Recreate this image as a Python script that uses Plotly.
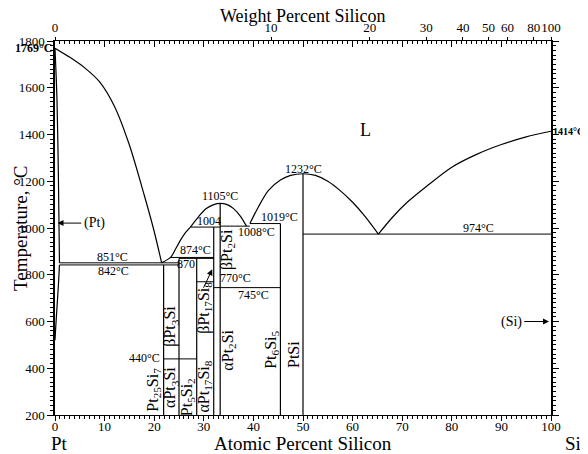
import plotly.graph_objects as go

# --- phase boundaries, atomic percent Si vs temperature (deg C) ---
liq_pt_x = [0, 3, 6, 9, 12, 15, 18, 20, 21.5]
liq_pt_t = [1769, 1730, 1685, 1625, 1520, 1355, 1140, 985, 851]

liq_mid_x = [21.5, 23.3, 24.3, 25.3, 26.3, 27.3]
liq_mid_t = [851, 874, 910, 948, 980, 1004]

liq_pt2si_x = [27.3, 29, 30.5, 32, 33.3, 34.7, 36, 37.4, 38.6]
liq_pt2si_t = [1004, 1050, 1083, 1100, 1105, 1100, 1083, 1050, 1008]

liq_ptsi_x = [39.3, 41, 43, 45.45, 47.5, 50, 52.5, 55, 57.5, 60, 62.5, 65.2]
liq_ptsi_t = [1019, 1090, 1160, 1205, 1225, 1232, 1225, 1200, 1160, 1110, 1050, 974]

liq_si_x = [65.2, 68, 71, 75, 80, 85, 90, 95, 100]
liq_si_t = [974, 1045, 1110, 1180, 1260, 1315, 1357, 1390, 1414]

solidus_pt_x = [0, 0.4, 0.7, 0.9]
solidus_pt_t = [1769, 1550, 1200, 851]
solvus_pt_x = [0.9, 0.7, 0.4, 0.1, 0]
solvus_pt_t = [842, 760, 660, 560, 520]

# invariant lines: temperature, from, to
iso_t = [851, 842, 874, 870, 1004, 1008, 1019, 974, 770, 745, 440]
iso_x0 = [0.9, 0.9, 23.3, 25, 27.3, 33.3, 39.3, 50, 28.57, 32, 21.9]
iso_x1 = [25, 25, 32, 32, 33.3, 39.3, 45.45, 100, 32, 45.45, 28.57]

# intermediate compounds: composition and top temperature
comp_x = [21.9, 25, 28.57, 32, 33.3, 45.45, 50]
comp_top = [842, 870, 870, 1004, 1105, 1019, 1232]

# top axis in weight percent
wt_ticks = [0, 10, 20, 30, 40, 50, 60, 80, 100]


def wt_to_at(w):
    if w >= 100:
        return 100.0
    a = w / 28.0855
    b = (100 - w) / 195.084
    return 100 * a / (a + b)


FONT = "Liberation Serif"

fig = go.Figure()

for xs, ts in [
    (liq_pt_x, liq_pt_t),
    (liq_mid_x, liq_mid_t),
    (liq_pt2si_x, liq_pt2si_t),
    (liq_ptsi_x, liq_ptsi_t),
    (liq_si_x, liq_si_t),
    (solidus_pt_x, solidus_pt_t),
    (solvus_pt_x, solvus_pt_t),
]:
    fig.add_trace(
        go.Scatter(x=xs, y=ts, mode="lines", line=dict(color="black", width=1.2, shape="spline", smoothing=0.8),
                   showlegend=False, hoverinfo="skip")
    )

# horizontal invariants
hx, hy = [], []
for t, a, b in zip(iso_t, iso_x0, iso_x1):
    hx += [a, b, None]
    hy += [t, t, None]
fig.add_trace(go.Scatter(x=hx, y=hy, mode="lines", line=dict(color="black", width=1), showlegend=False,
                         hoverinfo="skip"))

# vertical compound lines
vx, vy = [], []
for c, top in zip(comp_x, comp_top):
    vx += [c, c, None]
    vy += [200, top, None]
fig.add_trace(go.Scatter(x=vx, y=vy, mode="lines", line=dict(color="black", width=1.2), showlegend=False,
                         hoverinfo="skip"))

# dummy traces so the two top axes get drawn
for ax in ["x2", "x3"]:
    fig.add_trace(go.Scatter(x=[0], y=[200], xaxis=ax, mode="markers", marker=dict(opacity=0),
                             showlegend=False, hoverinfo="skip"))


def label(text, x, t, size=12, angle=0, **kw):
    kw.setdefault("xanchor", "center")
    fig.add_annotation(x=x, y=t, text=text, showarrow=False, textangle=angle, yanchor="middle",
                       font=dict(family=FONT, size=size, color="black"), **kw)


def note(text, x, y, size=19, angle=0, **kw):
    kw.setdefault("xanchor", "center")
    fig.add_annotation(x=x, y=y, xref="paper", yref="paper", text=text, showarrow=False, textangle=angle,
                       yanchor="middle", font=dict(family=FONT, size=size, color="black"), **kw)


# temperature labels
label("851°C", 11.5, 877)
label("842°C", 11.7, 815)
label("874°C", 28.3, 906)
label("870", 26.4, 846)
label("1105°C", 33.2, 1136)
label("1004", 31.0, 1028)
label("1008°C", 40.7, 981)
label("1019°C", 45.3, 1045)
label("1232°C", 50.1, 1253)
label("770°C", 36.4, 787)
label("745°C", 40.0, 713)
label("974°C", 85.4, 1000)
label("440°C", 21.6, 446, xanchor="right")
label("L", 62.7, 1419, size=18)

# phase labels (rotated)
phase = 16
label("βPt<sub>2</sub>Si", 34.9, 906, phase, -90)
label("βPt<sub>3</sub>Si", 23.4, 578, phase, -90)
label("αPt<sub>3</sub>Si", 23.4, 316, phase, -90)
label("Pt<sub>25</sub>Si<sub>7</sub>", 19.9, 307, phase, -90)
label("Pt<sub>5</sub>Si<sub>2</sub>", 26.7, 278, phase, -90)
label("βPt<sub>17</sub>Si<sub>8</sub>", 30.2, 658, phase, -90)
label("αPt<sub>17</sub>Si<sub>8</sub>", 30.2, 321, phase, -90)
label("αPt<sub>2</sub>Si", 34.8, 478, phase, -90)
label("Pt<sub>6</sub>Si<sub>5</sub>", 43.5, 478, phase, -90)
label("PtSi", 48.2, 457, phase, -90)

# terminal solid solutions with arrows
label("(Pt)", 8.0, 1021, 14)
fig.add_annotation(x=0.5, y=1021, ax=5.6, ay=1021, axref="x", ayref="y", text="", showarrow=True,
                   arrowhead=2, arrowsize=1.2, arrowwidth=1, arrowcolor="black")
label("(Si)", 92.0, 600, 14)
fig.add_annotation(x=99.6, y=600, ax=94.3, ay=600, axref="x", ayref="y", text="", showarrow=True,
                   arrowhead=2, arrowsize=1.2, arrowwidth=1, arrowcolor="black")
fig.add_annotation(x=31.7, y=823, ax=29.8, ay=738, axref="x", ayref="y", text="", showarrow=True,
                   arrowhead=2, arrowsize=1.2, arrowwidth=1, arrowcolor="black")

# melting points of the elements
fig.add_annotation(x=0, y=1769, xref="paper", text="<b>1769°C</b>", showarrow=False, xanchor="right",
                   yanchor="middle", xshift=-1, font=dict(family=FONT, size=12, color="black"))
fig.add_annotation(x=1, y=1414, xref="paper", text="<b>1414°C</b>", showarrow=False, xanchor="left",
                   yanchor="middle", xshift=1, borderpad=0, font=dict(family=FONT, size=10, color="black"))

# axis titles and end members
note("Atomic Percent Silicon", 0.5, -0.075)
note("Weight Percent Silicon", 0.5, 1.067, size=18)
note("Temperature, °C", -0.0706, 0.5, angle=-90)
note("Pt", 0.01, -0.075)
note("Si", 1.045, -0.075)

tick_font = dict(family=FONT, size=13, color="black")
fig.update_layout(
    width=588,
    height=454,
    margin=dict(l=47, r=45, t=33, b=47),
    paper_bgcolor="white",
    plot_bgcolor="white",
    xaxis=dict(range=[0, 100], tickvals=list(range(0, 101, 10)), ticks="outside", ticklen=5,
               minor=dict(dtick=1, ticks="outside", ticklen=3, tickcolor="black"),
               showline=True, linecolor="black", linewidth=1.3, showgrid=False, zeroline=False,
               tickfont=tick_font, tickcolor="black", automargin=False, ticklabelstandoff=-6),
    xaxis2=dict(range=[0, 100], overlaying="x", side="top", anchor="y", ticks="inside", ticklen=6,
                dtick=10, showticklabels=False, minor=dict(dtick=1, ticks="inside", ticklen=3, tickcolor="black"),
                showline=True, linecolor="black", linewidth=1.3, showgrid=False, zeroline=False, tickcolor="black",
                automargin=False),
    xaxis3=dict(range=[0, 100], overlaying="x", side="top", anchor="y", ticks="outside", ticklen=3,
                tickvals=[wt_to_at(w) for w in wt_ticks], ticktext=[str(w) for w in wt_ticks], tickangle=0,
                showline=False, showgrid=False, zeroline=False, tickfont=tick_font, tickcolor="black",
                automargin=False),
    yaxis=dict(range=[200, 1800], dtick=200, ticks="outside", ticklen=6, mirror="ticks",
               minor=dict(dtick=20, ticks="outside", ticklen=3, tickcolor="black"),
               showline=True, linecolor="black", linewidth=1.5, showgrid=False, zeroline=False,
               tickfont=tick_font, tickcolor="black", automargin=False),
)

fig.write_html("out.html")
